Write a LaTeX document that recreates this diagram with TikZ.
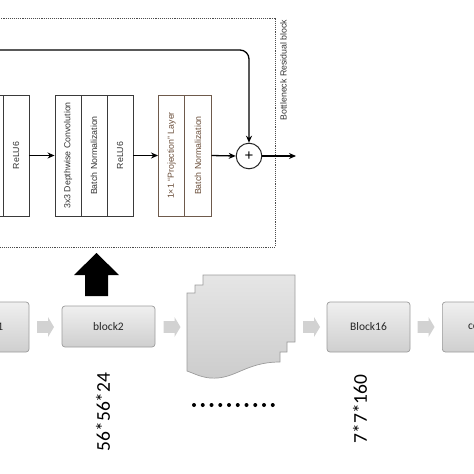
\documentclass[tikz,border=0pt]{standalone}
\usepackage{fontspec}
\setmainfont{Liberation Sans}
\newfontfamily\calfont{Carlito}
\usetikzlibrary{arrows.meta}
\definecolor{boxline}{HTML}{3A3A3A}
\definecolor{brownline}{HTML}{6E5A4C}
\definecolor{browntext}{HTML}{6A4E3A}
\definecolor{blkline}{HTML}{9C9C9C}
\definecolor{garrow}{HTML}{D2D2D2}
\tikzset{
  col/.style={draw=boxline, line width=0.9pt, minimum width=26pt, minimum height=121pt, inner sep=0pt, font=\fontsize{8.8}{9}\selectfont, text=black!80},
  bcol/.style={col, draw=brownline, text=browntext, minimum width=26.3pt},
  conn/.style={line width=1.3pt, -{Stealth[length=7pt,width=6pt]}},
  blk/.style={draw=blkline, line width=0.7pt, rounded corners=3pt, top color=black!6, bottom color=black!19, inner sep=0pt, font=\calfont\fontsize{11.5}{12}\selectfont, text=black!85},
  garrowpic/.pic={\fill[garrow] (-8.5,-5.8) -- (2.5,-5.8) -- (2.5,-10) -- (8.5,0) -- (2.5,10) -- (2.5,5.8) -- (-8.5,5.8) -- cycle;},
  dimlabel/.style={font=\calfont\fontsize{19.5}{20}\selectfont, rotate=90, inner sep=0pt}
}
\begin{document}
\begin{tikzpicture}[x=1pt,y=-1pt]
\useasboundingbox (0,0) rectangle (474,474);
% dotted frame
\draw[densely dotted, line width=0.9pt, black!70] (-10,18) rectangle (275,247);
\node[rotate=90, font=\fontsize{8.8}{9}\selectfont, text=black!80, inner sep=0pt] (frlabel) at (283.5,70) {Bottleneck Residual block};
% group 1 (partial)
\node[col] (g1a) at (-10,155.5) {};
\node[col] (g1b) at (16,155.5) {\rotatebox{90}{ReLU6}};
% group 2
\node[col] (g2a) at (68,155.5) {\rotatebox{90}{3x3 Depthwise Convolution}};
\node[col] (g2b) at (94,155.5) {\rotatebox{90}{Batch Normalization}};
\node[col] (g2c) at (120,155.5) {\rotatebox{90}{ReLU6}};
% group 3
\node[bcol] (g3a) at (171.6,155.5) {\rotatebox{90}{1×1 “Projection” Layer}};
\node[bcol] (g3b) at (197.9,155.5) {\rotatebox{90}{Batch Normalization}};
% add
\node[draw=black!85, circle, line width=1pt, minimum size=25.6pt, inner sep=0pt, font=\fontsize{15}{15}\selectfont] (add) at (249,156) {+};
\coordinate (skipstart) at (-10,50);
\coordinate (out) at (296,156);
\draw[conn] (g1b.east) -- (g2a.west);
\draw[conn] (g2c.east) -- (g3a.west);
\draw[conn] (g3b.east) -- (add.west);
\draw[conn] (add.east) -- (out);
\draw[conn, rounded corners=9pt] (skipstart) -| (add.north);
% black up arrow
\fill[black] (85,296) -- (85,275) -- (74,275) -- (96.5,253) -- (119,275) -- (108,275) -- (108,296) -- cycle;
% bottom blocks
\node[blk, minimum width=80pt, minimum height=50pt] (b1) at (-11,327) {};
\node[font=\calfont\fontsize{11.5}{12}\selectfont, text=black!85, anchor=east, inner sep=0pt] (b1t) at (3.5,327) {block1};
\node[blk, minimum width=93pt, minimum height=41pt] (b2) at (108.5,326.5) {block2};
\node[blk, minimum width=83pt, minimum height=50pt] (b16) at (368.5,327) {Block16};
\node[blk, minimum width=60pt, minimum height=50pt, anchor=west] (bl) at (442,327) {};
\node[font=\calfont\fontsize{11.5}{12}\selectfont, text=black!85, anchor=west, inner sep=0pt] (blt) at (468,327) {conv};
% stack shape
\shade[top color=black!10, bottom color=black!20, draw=blkline, line width=0.7pt]
  (203,275) -- (295,275) -- (295,342) -- (287,342) -- (287,352) -- (280,352) -- (280,362)
  .. controls (245,362) and (235,380) .. (210,378)
  .. controls (200,377) and (193,373) .. (187,371)
  -- (187,293) -- (195,293) -- (195,285) -- (203,285) -- cycle;
% gray arrows
\pic (a1) at (45.5,327) {garrowpic};
\pic (a2) at (172,327) {garrowpic};
\pic (a3) at (311.5,327) {garrowpic};
\pic (a4) at (426,327) {garrowpic};
% labels
\node[dimlabel] (d1) at (103,412) {56*56*24};
\node[dimlabel] (d2) at (360,409) {7*7*160};
% dots
\foreach \i in {0,...,9} {\fill[black] (194+8.75*\i,405) circle (2pt);}
\end{tikzpicture}
\end{document}
